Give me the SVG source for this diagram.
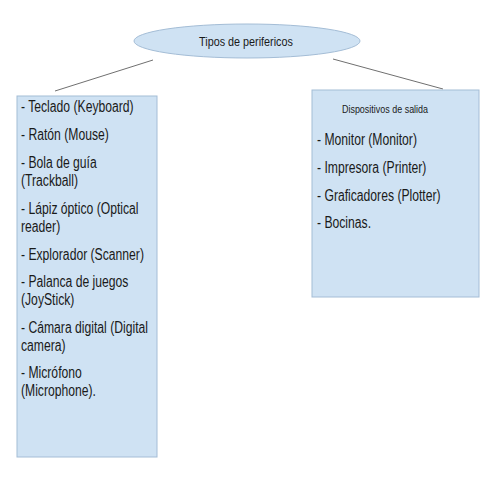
<svg xmlns="http://www.w3.org/2000/svg" width="480" height="480" viewBox="0 0 480 480">
<style>
.shape{fill:#cfe2f3;stroke:#a4bdd6;stroke-width:1}
.t{font-family:"Liberation Sans",Arial,sans-serif;font-size:16px;fill:#1a1a1a}
.s{font-family:"Liberation Sans",Arial,sans-serif;font-size:11.5px;fill:#1a1a1a}
.c{stroke:#707070;stroke-width:1;fill:none}
</style>
<rect width="480" height="480" fill="#ffffff"/>
<g id="connectors">
<line class="c" x1="55" y1="91" x2="153" y2="60"/>
<line class="c" x1="333" y1="59" x2="443" y2="89"/>
</g>
<g id="title">
<ellipse class="shape" cx="247" cy="41" rx="113" ry="17"/>
<g transform="matrix(0.8,0,0,1,246,0)">
<text class="t" x="0" y="46.5" text-anchor="middle" style="font-size:13.5px">Tipos de perifericos</text>
</g>
</g>
<g id="input">
<rect class="shape" x="17" y="96" width="140" height="361"/>
<g transform="matrix(0.76,0,0,1,21,0)">
<text class="t" x="0" y="112.5">- Teclado (Keyboard)</text>
<text class="t" x="0" y="140.5">- Ratón (Mouse)</text>
<text class="t" x="0" y="168.5">- Bola de guía</text>
<text class="t" x="0" y="186.5">(Trackball)</text>
<text class="t" x="0" y="214.5">- Lápiz óptico (Optical</text>
<text class="t" x="0" y="232.5">reader)</text>
<text class="t" x="0" y="260.5">- Explorador (Scanner)</text>
<text class="t" x="0" y="287.5">- Palanca de juegos</text>
<text class="t" x="0" y="305.5">(JoyStick)</text>
<text class="t" x="0" y="333.5">- Cámara digital (Digital</text>
<text class="t" x="0" y="351.5">camera)</text>
<text class="t" x="0" y="378.5">- Micrófono</text>
<text class="t" x="0" y="396.5">(Microphone).</text>
</g>
</g>
<g id="output">
<rect class="shape" x="312" y="90" width="167" height="207"/>
<g transform="matrix(0.78,0,0,1,385,0)">
<text class="s" x="0" y="113" text-anchor="middle">Dispositivos de salida</text>
</g>
<g transform="matrix(0.76,0,0,1,317,0)">
<text class="t" x="0" y="145">- Monitor (Monitor)</text>
<text class="t" x="0" y="173">- Impresora (Printer)</text>
<text class="t" x="0" y="201">- Graficadores (Plotter)</text>
<text class="t" x="0" y="228">- Bocinas.</text>
</g>
</g>
</svg>
